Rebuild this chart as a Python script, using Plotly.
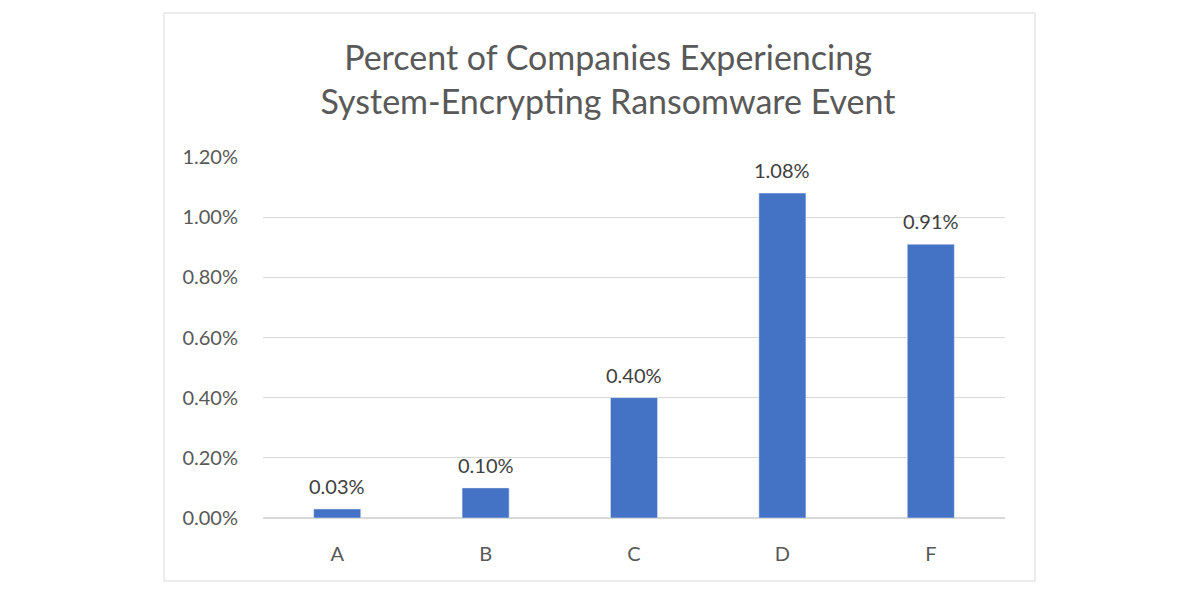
import plotly.graph_objects as go

# chart data
categories = ["A", "B", "C", "D", "F"]
values = [0.0003, 0.0010, 0.0040, 0.0108, 0.0091]
labels = ["0.03%", "0.10%", "0.40%", "1.08%", "0.91%"]
y_ticks = [0.0, 0.002, 0.004, 0.006, 0.008, 0.010, 0.012]

font_family = "Lato, Open Sans, sans-serif"
text_grey = "#595959"

fig = go.Figure()
fig.add_trace(go.Bar(
    x=categories,
    y=values,
    marker=dict(color="#4472c4"),
    hoverinfo="skip",
))

# value labels sit a little above each bar
for cat, val, lab in zip(categories, values, labels):
    fig.add_annotation(
        x=cat, y=val, text=lab,
        showarrow=False, yanchor="bottom", yshift=9,
        font=dict(size=20, color="#404040", family=font_family),
    )

# page body adds an 8px offset, so the margins are shifted back by 8
fig.update_layout(
    width=1200,
    height=600,
    margin=dict(l=255, r=203, t=149, b=90),
    paper_bgcolor="white",
    plot_bgcolor="white",
    bargap=0.683,
    showlegend=False,
    font=dict(family=font_family, color=text_grey),
    title=dict(
        text="Percent of Companies Experiencing<br>System-Encrypting Ransomware Event",
        x=0.5,
        xanchor="center",
        y=1 - 62 / 600,
        yanchor="middle",
        font=dict(size=34, color=text_grey, family=font_family),
    ),
    xaxis=dict(
        showgrid=False,
        showline=True,
        linecolor="#d9d9d9",
        linewidth=1,
        ticks="outside",
        ticklen=18,
        tickcolor="white",
        tickfont=dict(size=20, color=text_grey),
    ),
    yaxis=dict(
        range=[0, 0.012],
        tickvals=y_ticks,
        tickformat=".2%",
        showgrid=True,
        gridcolor="#d9d9d9",
        zeroline=True,
        zerolinecolor="#d9d9d9",
        ticks="outside",
        ticklen=20,
        tickcolor="white",
        tickfont=dict(size=20, color=text_grey),
    ),
    shapes=[dict(
        type="rect",
        xref="paper",
        yref="paper",
        x0=(164 - 263) / 742,
        x1=(1035 - 263) / 742,
        y0=(518 - 581) / 361,
        y1=(518 - 13) / 361,
        line=dict(color="#d9d9d9", width=1),
        fillcolor="rgba(0,0,0,0)",
        layer="below",
    )],
)

fig.write_html("out.html")
